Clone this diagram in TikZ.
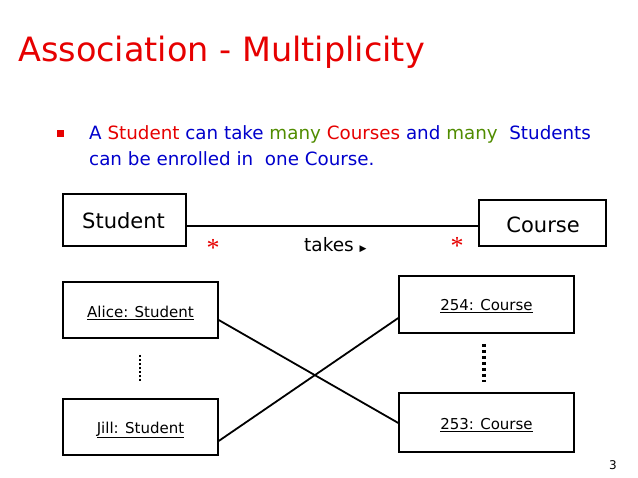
\documentclass[tikz,border=0pt]{standalone}
\usepackage{fontspec}
\setmainfont{DejaVu Sans}
\newfontfamily\serifast{Liberation Serif}
\begin{document}
\begin{tikzpicture}[x=1pt,y=-1pt,
  box/.style={draw,line width=1.4pt,inner sep=0pt},
  lnk/.style={line width=1.8pt}]
\useasboundingbox (0,0) rectangle (638,478);
\definecolor{tred}{RGB}{230,0,0}
\definecolor{tblue}{RGB}{0,0,204}
\definecolor{tgreen}{RGB}{80,140,0}
\node[anchor=base west,inner sep=0,text=tred,font=\fontsize{33.5}{40}\selectfont] (title) at (18,62) {Association - Multiplicity};
\fill[tred] (57,130) rectangle (64,137);
\node[anchor=base west,inner sep=0,text=tblue,font=\fontsize{18.3}{22}\selectfont] (l1) at (89,140) {A \textcolor{tred}{Student} can take \textcolor{tgreen}{many} \textcolor{tred}{Courses} and \textcolor{tgreen}{many}\ \ Students};
\node[anchor=base west,inner sep=0,text=tblue,font=\fontsize{18.3}{22}\selectfont] (l2) at (89,166) {can be enrolled in\ \ one Course.};
\node[box,minimum width=123pt,minimum height=52pt] (stu) at (124.5,220) {};
\node[anchor=base west,font=\fontsize{21}{24}\selectfont,inner sep=0] (stut) at (82,229) {Student};
\node[box,minimum width=127pt,minimum height=46pt] (crs) at (542.5,223) {};
\node[anchor=base east,font=\fontsize{21}{24}\selectfont,inner sep=0] (crst) at (580,233) {Course};
\draw[line width=1.6pt] (stu.east |- 0,226) -- (crs.west |- 0,226);
\node[text=tred,font=\serifast\fontsize{26}{26}\selectfont] (s1) at (213,248) {*};
\node[text=tred,font=\serifast\fontsize{26}{26}\selectfont] (s2) at (457,246) {*};
\node[anchor=base west,inner sep=0,font=\fontsize{18.5}{22}\selectfont] (tk) at (304,252) {takes {\fontsize{9}{9}\selectfont ▶}};
\tikzset{inst/.style={box,minimum width=155pt,minimum height=56pt,font=\fontsize{15}{18}\selectfont}}
\node[inst] (alice) at (140.5,310) {};
\node[inst] (jill) at (140.5,427) {};
\node[inst,minimum width=175pt,minimum height=57pt] (c254) at (486.5,304.5) {};
\node[inst,minimum width=175pt,minimum height=59pt] (c253) at (486.5,422.5) {};
\node[font=\fontsize{15}{18}\selectfont] (alicet) at (140.5,313) {\underline{Alice: Student}};
\node[font=\fontsize{15}{18}\selectfont] (jillt) at (140.5,430) {\underline{Jill: Student}};
\node[font=\fontsize{15}{18}\selectfont] (c254t) at (486.5,306) {\underline{254: Course}};
\node[font=\fontsize{15}{18}\selectfont] (c253t) at (486.5,425) {\underline{253: Course}};
\draw[lnk] (alice.east |- 0,320) -- (c253.west |- 0,423);
\draw[lnk] (jill.east |- 0,441) -- (c254.west |- 0,318);
\draw[line width=2pt,dash pattern=on 2pt off 2pt] (140,355) -- (140,381);
\draw[line width=3.5pt,dash pattern=on 3pt off 3pt] (484,344) -- (484,382);
\node[font=\fontsize{12}{12}\selectfont] (pg) at (613,465) {3};
\end{tikzpicture}
\end{document}
